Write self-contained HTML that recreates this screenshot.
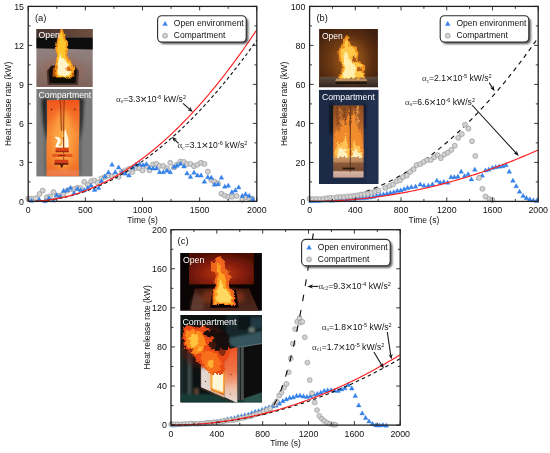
<!DOCTYPE html>
<html lang="en"><head><meta charset="utf-8"><title>Heat release rate</title>
<style>
html,body{margin:0;padding:0;background:#fff;}
body{width:550px;height:453px;overflow:hidden;}
svg{display:block;font-family:"Liberation Sans",sans-serif;}
</style></head><body>
<svg width="550" height="453" viewBox="0 0 550 453">
<defs>
<filter id="sh" x="-10%" y="-20%" width="125%" height="150%"><feGaussianBlur stdDeviation="0.9"/></filter>


<filter id="b3" x="-20%" y="-20%" width="140%" height="140%"><feGaussianBlur stdDeviation="0.35"/></filter>
<filter id="b6" x="-20%" y="-20%" width="140%" height="140%"><feGaussianBlur stdDeviation="0.6"/></filter>
<filter id="b10" x="-30%" y="-30%" width="160%" height="160%"><feGaussianBlur stdDeviation="1"/></filter>
<filter id="b15" x="-30%" y="-30%" width="160%" height="160%"><feGaussianBlur stdDeviation="1.5"/></filter>
<filter id="b20" x="-40%" y="-40%" width="180%" height="180%"><feGaussianBlur stdDeviation="2"/></filter>
<filter id="b35" x="-50%" y="-50%" width="200%" height="200%"><feGaussianBlur stdDeviation="3.5"/></filter>
<filter id="fl1" x="-20%" y="-20%" width="140%" height="140%"><feTurbulence type="fractalNoise" baseFrequency="0.22" numOctaves="2" seed="4" result="n"/><feDisplacementMap in="SourceGraphic" in2="n" scale="3.2" xChannelSelector="R" yChannelSelector="G"/><feGaussianBlur stdDeviation="0.35"/></filter>
<filter id="fl2" x="-20%" y="-20%" width="140%" height="140%"><feTurbulence type="fractalNoise" baseFrequency="0.3" numOctaves="2" seed="11" result="n"/><feDisplacementMap in="SourceGraphic" in2="n" scale="4" xChannelSelector="R" yChannelSelector="G"/><feGaussianBlur stdDeviation="0.35"/></filter>
<filter id="fl3" x="-20%" y="-20%" width="140%" height="140%"><feTurbulence type="fractalNoise" baseFrequency="0.35" numOctaves="2" seed="7" result="n"/><feDisplacementMap in="SourceGraphic" in2="n" scale="5" xChannelSelector="R" yChannelSelector="G"/><feGaussianBlur stdDeviation="0.4"/></filter>
<clipPath id="ca1"><rect x="36.4" y="29.1" width="56.3" height="58"/></clipPath>
<clipPath id="ca2"><rect x="36.4" y="89" width="56.1" height="87.5"/></clipPath>
<clipPath id="cb1"><rect x="319.1" y="28.9" width="58.8" height="58.4"/></clipPath>
<clipPath id="cb2"><rect x="318.9" y="89.8" width="59.6" height="94.3"/></clipPath>
<clipPath id="cb2o"><rect x="333.2" y="105.4" width="30.4" height="72.2"/></clipPath>
<clipPath id="cc1"><rect x="180.2" y="252.9" width="81.7" height="57.9"/></clipPath>
<clipPath id="cc2"><rect x="180.4" y="315" width="81.6" height="87.4"/></clipPath>
<linearGradient id="ga1f" x1="0" y1="0" x2="0" y2="1"><stop offset="0" stop-color="#968b8a"/><stop offset="0.5" stop-color="#8e7c79"/><stop offset="1" stop-color="#7e625a"/></linearGradient>
<linearGradient id="ga1t" x1="0" y1="0" x2="1" y2="0"><stop offset="0" stop-color="#43332f"/><stop offset="0.5" stop-color="#5c4036"/><stop offset="1" stop-color="#70503f"/></linearGradient>
<linearGradient id="ga2o" x1="0" y1="0" x2="0" y2="1"><stop offset="0" stop-color="#f0561c"/><stop offset="0.2" stop-color="#f46c26"/><stop offset="0.45" stop-color="#f78a36"/><stop offset="0.8" stop-color="#f47a2c"/><stop offset="1" stop-color="#ea6424"/></linearGradient>
<radialGradient id="gb1" cx="0.48" cy="0.52" r="0.62"><stop offset="0" stop-color="#8e4c1a"/><stop offset="0.5" stop-color="#6c3813"/><stop offset="1" stop-color="#40200d"/></radialGradient>
<linearGradient id="gb1f" x1="0" y1="0" x2="0" y2="1"><stop offset="0" stop-color="#5e4c3e"/><stop offset="1" stop-color="#30221e"/></linearGradient>
<linearGradient id="gb2o" x1="0" y1="0" x2="0" y2="1"><stop offset="0" stop-color="#8a4a20"/><stop offset="0.25" stop-color="#ae5e28"/><stop offset="0.42" stop-color="#d8742a"/><stop offset="0.68" stop-color="#f29238"/><stop offset="0.71" stop-color="#cf9a68"/><stop offset="0.78" stop-color="#b98458"/><stop offset="0.80" stop-color="#8a5a3a"/><stop offset="0.9" stop-color="#7a4e34"/><stop offset="0.92" stop-color="#d4b4a4"/><stop offset="1" stop-color="#c8a090"/></linearGradient>
<radialGradient id="gc1w" cx="0.5" cy="0.66" r="0.66"><stop offset="0" stop-color="#c03c10"/><stop offset="0.45" stop-color="#8e2009"/><stop offset="1" stop-color="#4c0e05"/></radialGradient>
<linearGradient id="gc1f" x1="0" y1="0" x2="0" y2="1"><stop offset="0" stop-color="#40190f"/><stop offset="1" stop-color="#4e281e"/></linearGradient>
<linearGradient id="gc2r" x1="0" y1="0" x2="0" y2="1"><stop offset="0" stop-color="#ee5424"/><stop offset="0.45" stop-color="#f0764a"/><stop offset="0.75" stop-color="#efc0a8"/><stop offset="1" stop-color="#e6dad4"/></linearGradient>
<linearGradient id="gc2d" x1="0" y1="0" x2="1" y2="0"><stop offset="0" stop-color="#ff9a28"/><stop offset="0.3" stop-color="#fff6cc"/><stop offset="0.75" stop-color="#fff0b8"/><stop offset="1" stop-color="#ff8a20"/></linearGradient>

</defs>
<rect width="550" height="453" fill="#fff"/>
<g id="pa">
<g fill="#d2d2d2" stroke="#8c8c8c" stroke-width="0.6"><circle cx="28.2" cy="198.6" r="2.5"/><circle cx="31.5" cy="198.6" r="2.5"/><circle cx="35.9" cy="198.3" r="2.5"/><circle cx="39.5" cy="194" r="2.5"/><circle cx="42.7" cy="190.6" r="2.5"/><circle cx="46.8" cy="197.2" r="2.5"/><circle cx="50" cy="196.5" r="2.5"/><circle cx="53.4" cy="192.1" r="2.5"/><circle cx="56.7" cy="195.7" r="2.5"/><circle cx="60.3" cy="195.7" r="2.5"/><circle cx="63.5" cy="194" r="2.5"/><circle cx="67.2" cy="190.6" r="2.5"/><circle cx="70.5" cy="189.2" r="2.5"/><circle cx="74" cy="189.2" r="2.5"/><circle cx="77.4" cy="187.7" r="2.5"/><circle cx="80.7" cy="188.2" r="2.5"/><circle cx="84.3" cy="181.9" r="2.5"/><circle cx="87.8" cy="184.8" r="2.5"/><circle cx="91.2" cy="181.2" r="2.5"/><circle cx="94.5" cy="180.5" r="2.5"/><circle cx="97.7" cy="182.6" r="2.5"/><circle cx="101.5" cy="178.4" r="2.5"/><circle cx="105" cy="176.9" r="2.5"/><circle cx="108.4" cy="175.5" r="2.5"/><circle cx="112" cy="176.2" r="2.5"/><circle cx="115.3" cy="175" r="2.5"/><circle cx="118.6" cy="176.9" r="2.5"/><circle cx="122" cy="171.8" r="2.5"/><circle cx="125.5" cy="170.4" r="2.5"/><circle cx="129" cy="168.9" r="2.5"/><circle cx="132.3" cy="172.1" r="2.5"/><circle cx="135.6" cy="168.2" r="2.5"/><circle cx="139.3" cy="168.2" r="2.5"/><circle cx="142.6" cy="170.4" r="2.5"/><circle cx="146.3" cy="166" r="2.5"/><circle cx="149.5" cy="170.4" r="2.5"/><circle cx="153" cy="164.5" r="2.5"/><circle cx="156.4" cy="163.8" r="2.5"/><circle cx="159.6" cy="166" r="2.5"/><circle cx="163.3" cy="166" r="2.5"/><circle cx="167" cy="168.2" r="2.5"/><circle cx="170.3" cy="162.8" r="2.5"/><circle cx="174" cy="167.5" r="2.5"/><circle cx="177" cy="164.5" r="2.5"/><circle cx="180.4" cy="161.6" r="2.5"/><circle cx="184" cy="162" r="2.5"/><circle cx="187" cy="164.2" r="2.5"/><circle cx="190.5" cy="163.9" r="2.5"/><circle cx="194" cy="166.2" r="2.5"/><circle cx="197.4" cy="164.7" r="2.5"/><circle cx="201" cy="162.8" r="2.5"/><circle cx="204.4" cy="163.9" r="2.5"/><circle cx="207.8" cy="171.6" r="2.5"/><circle cx="211.3" cy="180.1" r="2.5"/><circle cx="214.4" cy="181.7" r="2.5"/><circle cx="218" cy="183.2" r="2.5"/><circle cx="221.4" cy="193.7" r="2.5"/><circle cx="224.8" cy="195.6" r="2.5"/><circle cx="228.3" cy="196.8" r="2.5"/><circle cx="231.9" cy="196.8" r="2.5"/><circle cx="236.5" cy="196" r="2.5"/><circle cx="242.2" cy="199.8" r="2.5"/><circle cx="245.6" cy="197.1" r="2.5"/><circle cx="249.2" cy="198.2" r="2.5"/><circle cx="252.3" cy="198.7" r="2.5"/></g>
<path d="M31.5 198.03l2.38 4.25h-4.75zM39.3 197.03l2.38 4.25h-4.75zM45 198.43l2.38 4.25h-4.75zM49 195.53l2.38 4.25h-4.75zM53.4 197.72l2.38 4.25h-4.75zM56.7 192.62l2.38 4.25h-4.75zM60.3 194.12l2.38 4.25h-4.75zM63.5 188.22l2.38 4.25h-4.75zM67.2 187.53l2.38 4.25h-4.75zM70.5 185.32l2.38 4.25h-4.75zM74 190.43l2.38 4.25h-4.75zM77.4 186.32l2.38 4.25h-4.75zM80.7 187.53l2.38 4.25h-4.75zM84.3 187.53l2.38 4.25h-4.75zM87.8 185.32l2.38 4.25h-4.75zM91.2 182.93l2.38 4.25h-4.75zM94.5 187.22l2.38 4.25h-4.75zM98.5 185.32l2.38 4.25h-4.75zM101.5 178.43l2.38 4.25h-4.75zM105 173.82l2.38 4.25h-4.75zM108.4 169.72l2.38 4.25h-4.75zM112 162.12l2.38 4.25h-4.75zM115.3 169.43l2.38 4.25h-4.75zM118.6 164.82l2.38 4.25h-4.75zM122 169.43l2.38 4.25h-4.75zM125.5 170.93l2.38 4.25h-4.75zM129 172.82l2.38 4.25h-4.75zM132.7 164.82l2.38 4.25h-4.75zM136 162.12l2.38 4.25h-4.75zM139.6 161.43l2.38 4.25h-4.75zM143 162.62l2.38 4.25h-4.75zM146.3 161.43l2.38 4.25h-4.75zM149.5 165.12l2.38 4.25h-4.75zM153 165.82l2.38 4.25h-4.75zM156.4 165.82l2.38 4.25h-4.75zM159.6 169.43l2.38 4.25h-4.75zM163.3 169.43l2.38 4.25h-4.75zM167 168.03l2.38 4.25h-4.75zM170.3 169.43l2.38 4.25h-4.75zM174 164.32l2.38 4.25h-4.75zM176.9 163.12l2.38 4.25h-4.75zM180.4 161.22l2.38 4.25h-4.75zM184 163.82l2.38 4.25h-4.75zM187 170.82l2.38 4.25h-4.75zM190.5 174.22l2.38 4.25h-4.75zM194 170.03l2.38 4.25h-4.75zM197.4 172.82l2.38 4.25h-4.75zM201 172.82l2.38 4.25h-4.75zM204.4 179.03l2.38 4.25h-4.75zM207.8 174.62l2.38 4.25h-4.75zM211.3 175.12l2.38 4.25h-4.75zM214.4 181.93l2.38 4.25h-4.75zM218 181.62l2.38 4.25h-4.75zM221.4 175.12l2.38 4.25h-4.75zM224.8 183.93l2.38 4.25h-4.75zM228.3 183.12l2.38 4.25h-4.75zM231.9 189.62l2.38 4.25h-4.75zM235.3 187.82l2.38 4.25h-4.75zM238.7 184.72l2.38 4.25h-4.75zM242.2 193.22l2.38 4.25h-4.75zM245.6 191.62l2.38 4.25h-4.75zM249.2 193.22l2.38 4.25h-4.75zM252.7 196.72l2.38 4.25h-4.75z" fill="#3585ee" stroke="#2a70d8" stroke-width="0.3"/>
<polyline points="35.06,201.25 37.83,201.11 40.6,200.93 43.37,200.69 46.15,200.41 48.92,200.08 51.69,199.7 54.46,199.27 57.23,198.8 60,198.28 62.78,197.71 65.55,197.1 68.32,196.43 71.09,195.73 73.86,194.97 76.63,194.16 79.41,193.31 82.18,192.41 84.95,191.47 87.72,190.47 90.49,189.43 93.27,188.34 96.04,187.2 98.81,186.02 101.58,184.79 104.35,183.51 107.12,182.19 109.9,180.81 112.67,179.39 115.44,177.92 118.21,176.41 120.98,174.84 123.75,173.23 126.53,171.58 129.3,169.87 132.07,168.12 134.84,166.32 137.61,164.47 140.39,162.58 143.16,160.64 145.93,158.65 148.7,156.61 151.47,154.52 154.24,152.39 157.02,150.21 159.79,147.99 162.56,145.71 165.33,143.39 168.1,141.02 170.87,138.61 173.65,136.14 176.42,133.63 179.19,131.07 181.96,128.47 184.73,125.82 187.51,123.12 190.28,120.37 193.05,117.57 195.82,114.73 198.59,111.84 201.36,108.9 204.14,105.92 206.91,102.89 209.68,99.81 212.45,96.68 215.22,93.5 218,90.28 220.77,87.01 223.54,83.7 226.31,80.33 229.08,76.92 231.85,73.46 234.63,69.96 237.4,66.4 240.17,62.8 242.94,59.15 245.71,55.46 248.48,51.71 251.26,47.92 254.03,44.09 256.8,40.2" fill="none" stroke="#111" stroke-width="1.1" stroke-dasharray="3.4 2.6"/>
<polyline points="35.06,201.25 37.83,201.1 40.6,200.89 43.37,200.64 46.15,200.34 48.92,199.99 51.69,199.59 54.46,199.14 57.23,198.63 60,198.08 62.78,197.47 65.55,196.82 68.32,196.11 71.09,195.36 73.86,194.55 76.63,193.7 79.41,192.79 82.18,191.83 84.95,190.82 87.72,189.77 90.49,188.66 93.27,187.5 96.04,186.29 98.81,185.03 101.58,183.72 104.35,182.36 107.12,180.95 109.9,179.48 112.67,177.97 115.44,176.41 118.21,174.8 120.98,173.13 123.75,171.42 126.53,169.65 129.3,167.84 132.07,165.97 134.84,164.06 137.61,162.09 140.39,160.07 143.16,158.01 145.93,155.89 148.7,153.72 151.47,151.5 154.24,149.23 157.02,146.91 159.79,144.54 162.56,142.12 165.33,139.65 168.1,137.13 170.87,134.56 173.65,131.93 176.42,129.26 179.19,126.54 181.96,123.76 184.73,120.94 187.51,118.07 190.28,115.14 193.05,112.16 195.82,109.14 198.59,106.06 201.36,102.93 204.14,99.76 206.91,96.53 209.68,93.25 212.45,89.92 215.22,86.54 218,83.11 220.77,79.63 223.54,76.1 226.31,72.52 229.08,68.89 231.85,65.21 234.63,61.48 237.4,57.69 240.17,53.86 242.94,49.98 245.71,46.04 248.48,42.06 251.26,38.02 254.03,33.94 256.8,29.8" fill="none" stroke="#ff1f1f" stroke-width="1.15"/>
<path d="M28.2 201.4v-4M28.2 6.4v4M85.35 201.4v-4M85.35 6.4v4M142.5 201.4v-4M142.5 6.4v4M199.65 201.4v-4M199.65 6.4v4M256.8 201.4v-4M256.8 6.4v4M56.78 201.4v-2.4M56.78 6.4v2.4M113.93 201.4v-2.4M113.93 6.4v2.4M171.07 201.4v-2.4M171.07 6.4v2.4M228.23 201.4v-2.4M228.23 6.4v2.4M28.2 201.4h4M256.8 201.4h-4M28.2 162.4h4M256.8 162.4h-4M28.2 123.4h4M256.8 123.4h-4M28.2 84.4h4M256.8 84.4h-4M28.2 45.4h4M256.8 45.4h-4M28.2 6.4h4M256.8 6.4h-4M28.2 181.9h2.4M256.8 181.9h-2.4M28.2 142.9h2.4M256.8 142.9h-2.4M28.2 103.9h2.4M256.8 103.9h-2.4M28.2 64.9h2.4M256.8 64.9h-2.4M28.2 25.9h2.4M256.8 25.9h-2.4" stroke="#222" stroke-width="0.9" fill="none"/>
<rect x="28.2" y="6.4" width="228.6" height="195" fill="none" stroke="#222" stroke-width="1.3"/>
<g font-size="8.8" fill="#111">
<text x="28.2" y="213.1" text-anchor="middle">0</text>
<text x="85.35" y="213.1" text-anchor="middle">500</text>
<text x="142.5" y="213.1" text-anchor="middle">1000</text>
<text x="199.65" y="213.1" text-anchor="middle">1500</text>
<text x="256.8" y="213.1" text-anchor="middle">2000</text>
<text x="24" y="204.5" text-anchor="end">0</text>
<text x="24" y="165.5" text-anchor="end">3</text>
<text x="24" y="126.5" text-anchor="end">6</text>
<text x="24" y="87.5" text-anchor="end">9</text>
<text x="24" y="48.5" text-anchor="end">12</text>
<text x="24" y="9.5" text-anchor="end">15</text>
</g>
<text x="142.5" y="223.3" font-size="8.45" text-anchor="middle" fill="#111">Time (s)</text>
<text transform="translate(11.1 103.9) rotate(-90)" font-size="8.4" text-anchor="middle" fill="#111">Heat release rate (kW)</text>
<text x="35" y="20.9" font-size="9.4" fill="#111">(a)</text>
<rect x="159.6" y="17.7" width="88.6" height="26.3" rx="4.2" fill="#3a3a3a" opacity="0.9" filter="url(#sh)"/>
<rect x="157.6" y="15.7" width="88.6" height="26.3" rx="4.2" fill="#fff" stroke="#2c2c2c" stroke-width="1.1"/>
<path d="M165.1 21.32l2.38 4.25h-4.75z" fill="#3585ee" stroke="#2a70d8" stroke-width="0.3"/>
<circle cx="165.1" cy="35.7" r="2.5" fill="#d2d2d2" stroke="#8c8c8c" stroke-width="0.6"/>
<text x="173.8" y="26.3" font-size="8.5" fill="#111">Open environment</text>
<text x="173.8" y="38.4" font-size="8.5" fill="#111">Compartment</text>
<text x="116" y="101.7" font-size="8.6" fill="#111"><tspan font-family='"Liberation Serif", "DejaVu Serif", serif' font-size="9" fill="#3a3a3a">α</tspan><tspan font-family='"Liberation Serif", serif' font-size="5.2" dy="1.2" fill="#222">o</tspan><tspan dy="-1.2" fill="#333">=</tspan><tspan>3.3</tspan><tspan font-size="11.4" dy="0.9">×</tspan><tspan dy="-0.9">10</tspan><tspan font-size="5.5" dy="-3">-6</tspan><tspan dy="3"> kW/s</tspan><tspan font-size="5.5" dy="-3">2</tspan></text>
<path d="M183 103.4L189.85 109.41" stroke="#111" stroke-width="1.05" fill="none"/><path d="M192.8 112L187.21 109.88L189.85 109.41L189.98 106.73z" fill="#111"/>
<text x="177.6" y="148.3" font-size="8.6" fill="#111"><tspan font-family='"Liberation Serif", "DejaVu Serif", serif' font-size="9" fill="#3a3a3a">α</tspan><tspan font-family='"Liberation Serif", serif' font-size="5.2" dy="1.2" fill="#222">c</tspan><tspan dy="-1.2" fill="#333">=</tspan><tspan>3.1</tspan><tspan font-size="11.4" dy="0.9">×</tspan><tspan dy="-0.9">10</tspan><tspan font-size="5.5" dy="-3">-6</tspan><tspan dy="3"> kW/s</tspan><tspan font-size="5.5" dy="-3">2</tspan></text>
<path d="M178.6 143.4L174.61 139.53" stroke="#111" stroke-width="1.05" fill="none"/><path d="M171.8 136.8L177.28 139.19L174.61 139.53L174.36 142.21z" fill="#111"/>
<g clip-path="url(#ca1)"><rect x="36" y="29" width="57" height="59" fill="url(#ga1f)"/><ellipse cx="63" cy="70" rx="20" ry="13" fill="#a4604a" opacity="0.45" filter="url(#b35)"/><g filter="url(#b6)"><rect x="34" y="27" width="61" height="10.6" fill="url(#ga1t)"/><path d="M34 37.4H95V49.6L34 48.2z" fill="#0d0a0a"/><path d="M46.6 71L51 65.5H75L79 71L78 85H47.6z" fill="#33241f" opacity="0.7"/></g><g filter="url(#b3)"><path d="M48.4 70.5L52 66H74L76.8 70.5L75.8 83.2H49.4z" fill="#15100d"/><path d="M53 67.4H73.4L74.6 77.6H52.6z" fill="#b5530f"/><path d="M52 76.8H74.8L74 82.8H52.8z" fill="#0a0706"/></g><g filter="url(#fl1)"><path d="M62 27C64 33 65 38.6 67.8 43.6C69.4 48 66.6 52.6 67.2 56C69.2 59.6 72 63 74 68C74.6 72 73 76 71.6 77.6H56.6C54.2 73 54.6 67 56.4 60C55.4 54.4 55.8 48 56.6 42.4C57.4 36.6 59.4 31.6 62 27z" fill="#f6951a"/><path d="M61.8 30.6C63 37 64 41.4 66.2 45.6C67.2 49.6 64.6 53 65.6 57C67.2 61 70 64 71.6 68C72.4 72 71.4 75 70.4 76.8H57.8C56.2 72 56.6 66 58 60C57 55 57.4 49 58.2 44C58.8 39 60.2 34.4 61.8 30.6z" fill="#ffc62e"/><path d="M60.2 54C62 57 65 59.6 67 63C69 66 70.6 70 69.6 75.6H58.4C57 70 57.6 61 60.2 54z" fill="#fff4c8"/><ellipse cx="68.6" cy="68.8" rx="2.2" ry="2.5" fill="#d8701a"/><ellipse cx="56.6" cy="67" rx="1.3" ry="2" fill="#e8801a"/></g></g><text x="38.6" y="38.3" font-size="8.7" fill="#fff">Open</text>
<g clip-path="url(#ca2)"><rect x="36" y="88.8" width="57" height="88" fill="#7b7b7b"/><g filter="url(#b15)"><path d="M47.4 98L41.4 99.5L43 122L46 140L47.4 140z" fill="#1a1614" opacity="0.9"/><path d="M78.6 98L84 99.5L82.6 124L80 142L78.6 142z" fill="#1a1614" opacity="0.85"/><path d="M43 98.8H83" stroke="#2a2422" stroke-width="1.8" fill="none" opacity="0.8"/><path d="M45.6 140V176" stroke="#3e3a38" stroke-width="2" fill="none" opacity="0.6"/><path d="M80 142V176" stroke="#3e3a38" stroke-width="2" fill="none" opacity="0.6"/></g><g filter="url(#b3)"><path d="M46.9 100.3L79.3 99.9C79.9 115 79.3 135 78.7 150L78.9 176.2H46.6L46.4 150C47 135 47.5 115 46.9 100.3z" fill="url(#ga2o)"/></g><ellipse cx="63" cy="140" rx="10" ry="30" fill="#ffb24c" opacity="0.75" filter="url(#b35)"/><g filter="url(#b3)"><path d="M60 99.9C61.6 112 60.4 124 61.6 131L63.2 150L64 150C63.6 130 64 112 64.2 99.9z" fill="#e2521c" opacity="0.35"/><path d="M60 99.9C61.6 112 60.4 124 61.6 131" stroke="#7a2a0c" stroke-width="0.8" fill="none"/><path d="M64.2 99.9C64 112 63.4 130 63.7 165" stroke="#7a2a0c" stroke-width="0.8" fill="none"/><circle cx="51.6" cy="109.4" r="0.8" fill="#6a1c0a"/><circle cx="74.8" cy="109.4" r="0.8" fill="#6a1c0a"/><path d="M54.6 137.2C56.6 136.4 59.6 137 60.6 139.4C61.4 142 59.4 143.6 58.6 145.2C59.6 146.4 61 146.4 61.6 145.4L62.2 138L63 147.6H55.6C55 144.6 57 143 57.6 141.2C57.6 139.4 55.8 138.6 54.6 137.2z" fill="#fff8e4"/><path d="M64.4 133C65 130 65.6 127 66.2 132C67 135 68 137 68.4 140L68.8 147.6H64.6z" fill="#fff8e4"/><path d="M62.6 128C63.2 131 63.6 134 63.4 137L62 137.6C62 134 62.2 131 62.6 128z" fill="#ffd050"/><rect x="55.6" y="147.8" width="13.2" height="4.4" fill="#dd4616"/><rect x="55.6" y="150.8" width="13.2" height="1.4" fill="#a02c0c"/><rect x="52.4" y="153.8" width="20" height="3.2" fill="#e6581e"/><rect x="58.6" y="155" width="6.6" height="0.9" fill="#7a200a"/><rect x="54.5" y="159.7" width="13.8" height="4.7" fill="#d43c16"/><rect x="54.5" y="163.2" width="13.8" height="1.4" fill="#5a1a08"/><path d="M59.8 164.6H63.6L61.8 168.2z" fill="#4a1406"/></g><rect x="46.6" y="170" width="32.3" height="6.2" fill="#f09070" opacity="0.5" filter="url(#b10)"/></g><text x="38.6" y="98" font-size="8.7" fill="#fff">Compartment</text>
</g>
<g id="pb">
<polyline points="316.46,201.25 319.23,201.11 322,200.92 324.77,200.68 327.55,200.39 330.32,200.05 333.09,199.67 335.86,199.24 338.63,198.76 341.4,198.23 344.18,197.65 346.95,197.03 349.72,196.35 352.49,195.63 355.26,194.86 358.03,194.05 360.81,193.18 363.58,192.27 366.35,191.31 369.12,190.3 371.89,189.24 374.67,188.13 377.44,186.98 380.21,185.77 382.98,184.52 385.75,183.22 388.52,181.88 391.3,180.48 394.07,179.04 396.84,177.54 399.61,176 402.38,174.42 405.15,172.78 407.93,171.1 410.7,169.36 413.47,167.58 416.24,165.75 419.01,163.88 421.79,161.95 424.56,159.98 427.33,157.96 430.1,155.89 432.87,153.77 435.64,151.6 438.42,149.39 441.19,147.13 443.96,144.82 446.73,142.46 449.5,140.05 452.27,137.59 455.05,135.09 457.82,132.54 460.59,129.94 463.36,127.29 466.13,124.6 468.91,121.85 471.68,119.06 474.45,116.22 477.22,113.33 479.99,110.4 482.76,107.41 485.54,104.38 488.31,101.3 491.08,98.17 493.85,94.99 496.62,91.76 499.4,88.49 502.17,85.17 504.94,81.8 507.71,78.38 510.48,74.91 513.25,71.4 516.03,67.84 518.8,64.23 521.57,60.57 524.34,56.86 527.11,53.1 529.88,49.3 532.66,45.45 535.43,41.55 538.2,37.6" fill="none" stroke="#111" stroke-width="1.15" stroke-dasharray="4.4 4"/>
<path d="M311 198.43l2.38 4.25h-4.75zM314.45 198.23l2.38 4.25h-4.75zM317.9 198.25l2.38 4.25h-4.75zM321.35 197.99l2.38 4.25h-4.75zM324.8 197.81l2.38 4.25h-4.75zM328.25 197.84l2.38 4.25h-4.75zM331.7 197.93l2.38 4.25h-4.75zM335.15 197.67l2.38 4.25h-4.75zM338.6 197.44l2.38 4.25h-4.75zM342.05 196.96l2.38 4.25h-4.75zM345.5 196.91l2.38 4.25h-4.75zM348.95 196.58l2.38 4.25h-4.75zM352.4 196.23l2.38 4.25h-4.75zM355.85 195.86l2.38 4.25h-4.75zM359.3 195.57l2.38 4.25h-4.75zM362.75 195.59l2.38 4.25h-4.75zM366.2 195.21l2.38 4.25h-4.75zM369.65 194.86l2.38 4.25h-4.75zM373.1 194.17l2.38 4.25h-4.75zM376.55 193.06l2.38 4.25h-4.75zM380 192.32l2.38 4.25h-4.75zM383.45 191.67l2.38 4.25h-4.75zM386.9 190.92l2.38 4.25h-4.75zM390.35 190.22l2.38 4.25h-4.75zM393.8 189.48l2.38 4.25h-4.75zM397.25 188.32l2.38 4.25h-4.75zM400.7 187.73l2.38 4.25h-4.75zM404.15 186.56l2.38 4.25h-4.75zM407.6 185.27l2.38 4.25h-4.75zM411.3 184.43l2.38 4.25h-4.75zM415.6 183.93l2.38 4.25h-4.75zM420.2 181.82l2.38 4.25h-4.75zM424 183.12l2.38 4.25h-4.75zM428.4 183.12l2.38 4.25h-4.75zM432.5 181.82l2.38 4.25h-4.75zM436.9 178.03l2.38 4.25h-4.75zM440.2 180.03l2.38 4.25h-4.75zM443.8 179.32l2.38 4.25h-4.75zM447.6 180.03l2.38 4.25h-4.75zM451 174.62l2.38 4.25h-4.75zM454.3 174.62l2.38 4.25h-4.75zM457.9 174.12l2.38 4.25h-4.75zM461.2 169.03l2.38 4.25h-4.75zM464.5 173.62l2.38 4.25h-4.75zM468.1 171.62l2.38 4.25h-4.75zM471.4 176.72l2.38 4.25h-4.75zM474.8 167.03l2.38 4.25h-4.75zM478.6 175.43l2.38 4.25h-4.75zM482.2 172.93l2.38 4.25h-4.75zM485.5 167.72l2.38 4.25h-4.75zM488.8 167.03l2.38 4.25h-4.75zM492.4 165.22l2.38 4.25h-4.75zM495.7 164.43l2.38 4.25h-4.75zM499.1 163.93l2.38 4.25h-4.75zM502.7 163.43l2.38 4.25h-4.75zM506 162.62l2.38 4.25h-4.75zM509.3 169.03l2.38 4.25h-4.75zM512.9 178.03l2.38 4.25h-4.75zM516.2 183.62l2.38 4.25h-4.75zM519.5 189.03l2.38 4.25h-4.75zM523.1 193.32l2.38 4.25h-4.75zM526.4 195.43l2.38 4.25h-4.75zM529.8 196.72l2.38 4.25h-4.75zM533.4 197.72l2.38 4.25h-4.75zM536.7 198.22l2.38 4.25h-4.75z" fill="#3585ee" stroke="#2a70d8" stroke-width="0.3"/>
<g fill="#d2d2d2" stroke="#8c8c8c" stroke-width="0.6"><circle cx="309.5" cy="198.87" r="2.5"/><circle cx="312.95" cy="199.05" r="2.5"/><circle cx="316.4" cy="198.99" r="2.5"/><circle cx="319.85" cy="199.14" r="2.5"/><circle cx="323.3" cy="198.95" r="2.5"/><circle cx="326.75" cy="198.29" r="2.5"/><circle cx="330.2" cy="197.88" r="2.5"/><circle cx="333.65" cy="197.92" r="2.5"/><circle cx="337.1" cy="197.25" r="2.5"/><circle cx="340.55" cy="196.92" r="2.5"/><circle cx="344" cy="197.01" r="2.5"/><circle cx="347.45" cy="196.45" r="2.5"/><circle cx="350.9" cy="196.33" r="2.5"/><circle cx="354.35" cy="195.83" r="2.5"/><circle cx="357.8" cy="195.35" r="2.5"/><circle cx="361.25" cy="194.55" r="2.5"/><circle cx="364.7" cy="194.13" r="2.5"/><circle cx="368.15" cy="193.55" r="2.5"/><circle cx="371.6" cy="192.59" r="2.5"/><circle cx="375.05" cy="191.67" r="2.5"/><circle cx="378.5" cy="190.62" r="2.5"/><circle cx="385.2" cy="188" r="2.5"/><circle cx="389.4" cy="186" r="2.5"/><circle cx="393" cy="184.5" r="2.5"/><circle cx="396.4" cy="181.3" r="2.5"/><circle cx="400" cy="180.3" r="2.5"/><circle cx="403" cy="177.1" r="2.5"/><circle cx="406.9" cy="175.5" r="2.5"/><circle cx="410" cy="171.9" r="2.5"/><circle cx="413.6" cy="169.2" r="2.5"/><circle cx="416.7" cy="165" r="2.5"/><circle cx="420.3" cy="164.1" r="2.5"/><circle cx="423.6" cy="162" r="2.5"/><circle cx="427.2" cy="160" r="2.5"/><circle cx="430.8" cy="160" r="2.5"/><circle cx="434.1" cy="157.2" r="2.5"/><circle cx="437.7" cy="155.1" r="2.5"/><circle cx="440.8" cy="158.2" r="2.5"/><circle cx="444.4" cy="154.5" r="2.5"/><circle cx="447.8" cy="152.6" r="2.5"/><circle cx="451.3" cy="149.9" r="2.5"/><circle cx="454.7" cy="145.7" r="2.5"/><circle cx="458.2" cy="137.9" r="2.5"/><circle cx="461.8" cy="134.1" r="2.5"/><circle cx="465" cy="124.7" r="2.5"/><circle cx="468.4" cy="128.6" r="2.5"/><circle cx="472" cy="141.2" r="2.5"/><circle cx="475.3" cy="156" r="2.5"/><circle cx="479.1" cy="177.8" r="2.5"/><circle cx="482.4" cy="188.8" r="2.5"/><circle cx="485.5" cy="196.5" r="2.5"/><circle cx="489.3" cy="199" r="2.5"/><circle cx="492.4" cy="200.1" r="2.5"/></g>
<polyline points="309.6,201.4 312.46,201.39 315.31,201.37 318.17,201.33 321.03,201.27 323.89,201.2 326.75,201.11 329.6,201.01 332.46,200.89 335.32,200.75 338.18,200.6 341.03,200.43 343.89,200.24 346.75,200.04 349.61,199.82 352.46,199.59 355.32,199.34 358.18,199.08 361.04,198.79 363.89,198.5 366.75,198.18 369.61,197.85 372.47,197.51 375.32,197.14 378.18,196.77 381.04,196.37 383.9,195.96 386.75,195.54 389.61,195.09 392.47,194.64 395.33,194.16 398.18,193.67 401.04,193.16 403.9,192.64 406.76,192.1 409.61,191.55 412.47,190.98 415.33,190.39 418.19,189.78 421.04,189.17 423.9,188.53 426.76,187.88 429.62,187.21 432.47,186.53 435.33,185.83 438.19,185.11 441.05,184.38 443.9,183.63 446.76,182.87 449.62,182.09 452.48,181.29 455.33,180.48 458.19,179.65 461.05,178.81 463.91,177.94 466.76,177.07 469.62,176.17 472.48,175.27 475.34,174.34 478.19,173.4 481.05,172.44 483.91,171.47 486.77,170.48 489.62,169.47 492.48,168.45 495.34,167.42 498.2,166.36 501.05,165.29 503.91,164.21 506.77,163.1 509.63,161.99 512.48,160.85 515.34,159.7 518.2,158.53 521.06,157.35 523.91,156.15 526.77,154.94 529.63,153.71 532.49,152.46 535.34,151.2 538.2,149.92" fill="none" stroke="#ff1f1f" stroke-width="1.15"/>
<path d="M309.6 201.4v-4M309.6 6.4v4M355.32 201.4v-4M355.32 6.4v4M401.04 201.4v-4M401.04 6.4v4M446.76 201.4v-4M446.76 6.4v4M492.48 201.4v-4M492.48 6.4v4M538.2 201.4v-4M538.2 6.4v4M332.46 201.4v-2.4M332.46 6.4v2.4M378.18 201.4v-2.4M378.18 6.4v2.4M423.9 201.4v-2.4M423.9 6.4v2.4M469.62 201.4v-2.4M469.62 6.4v2.4M515.34 201.4v-2.4M515.34 6.4v2.4M309.6 201.4h4M538.2 201.4h-4M309.6 162.4h4M538.2 162.4h-4M309.6 123.4h4M538.2 123.4h-4M309.6 84.4h4M538.2 84.4h-4M309.6 45.4h4M538.2 45.4h-4M309.6 6.4h4M538.2 6.4h-4M309.6 181.9h2.4M538.2 181.9h-2.4M309.6 142.9h2.4M538.2 142.9h-2.4M309.6 103.9h2.4M538.2 103.9h-2.4M309.6 64.9h2.4M538.2 64.9h-2.4M309.6 25.9h2.4M538.2 25.9h-2.4" stroke="#222" stroke-width="0.9" fill="none"/>
<rect x="309.6" y="6.4" width="228.6" height="195" fill="none" stroke="#222" stroke-width="1.3"/>
<g font-size="8.8" fill="#111">
<text x="309.6" y="213.1" text-anchor="middle">0</text>
<text x="355.32" y="213.1" text-anchor="middle">400</text>
<text x="401.04" y="213.1" text-anchor="middle">800</text>
<text x="446.76" y="213.1" text-anchor="middle">1200</text>
<text x="492.48" y="213.1" text-anchor="middle">1600</text>
<text x="538.2" y="213.1" text-anchor="middle">2000</text>
<text x="305.4" y="204.5" text-anchor="end">0</text>
<text x="305.4" y="165.5" text-anchor="end">20</text>
<text x="305.4" y="126.5" text-anchor="end">40</text>
<text x="305.4" y="87.5" text-anchor="end">60</text>
<text x="305.4" y="48.5" text-anchor="end">80</text>
<text x="305.4" y="9.5" text-anchor="end">100</text>
</g>
<text x="423.9" y="223.3" font-size="8.45" text-anchor="middle" fill="#111">Time (s)</text>
<text transform="translate(287.2 103.9) rotate(-90)" font-size="8.4" text-anchor="middle" fill="#111">Heat release rate (kW)</text>
<text x="316.4" y="20.9" font-size="9.4" fill="#111">(b)</text>
<rect x="442.2" y="17.7" width="88.6" height="26.3" rx="4.2" fill="#3a3a3a" opacity="0.9" filter="url(#sh)"/>
<rect x="440.2" y="15.7" width="88.6" height="26.3" rx="4.2" fill="#fff" stroke="#2c2c2c" stroke-width="1.1"/>
<path d="M447.7 21.32l2.38 4.25h-4.75z" fill="#3585ee" stroke="#2a70d8" stroke-width="0.3"/>
<circle cx="447.7" cy="35.7" r="2.5" fill="#d2d2d2" stroke="#8c8c8c" stroke-width="0.6"/>
<text x="456.4" y="26.3" font-size="8.5" fill="#111">Open environment</text>
<text x="456.4" y="38.4" font-size="8.5" fill="#111">Compartment</text>
<text x="422" y="81.4" font-size="8.6" fill="#111"><tspan font-family='"Liberation Serif", "DejaVu Serif", serif' font-size="9" fill="#3a3a3a">α</tspan><tspan font-family='"Liberation Serif", serif' font-size="5.2" dy="1.2" fill="#222">c</tspan><tspan dy="-1.2" fill="#333">=</tspan><tspan>2.1</tspan><tspan font-size="11.4" dy="0.9">×</tspan><tspan dy="-0.9">10</tspan><tspan font-size="5.5" dy="-3">-5</tspan><tspan dy="3"> kW/s</tspan><tspan font-size="5.5" dy="-3">2</tspan></text>
<path d="M489.2 82.8L492.48 87.9" stroke="#111" stroke-width="1.05" fill="none"/><path d="M494.6 91.2L489.81 87.62L492.48 87.9L493.34 85.35z" fill="#111"/>
<text x="405" y="104.6" font-size="8.6" fill="#111"><tspan font-family='"Liberation Serif", "DejaVu Serif", serif' font-size="9" fill="#3a3a3a">α</tspan><tspan font-family='"Liberation Serif", serif' font-size="5.2" dy="1.2" fill="#222">o</tspan><tspan dy="-1.2" fill="#333">=</tspan><tspan>6.6</tspan><tspan font-size="11.4" dy="0.9">×</tspan><tspan dy="-0.9">10</tspan><tspan font-size="5.5" dy="-3">-6</tspan><tspan dy="3"> kW/s</tspan><tspan font-size="5.5" dy="-3">2</tspan></text>
<path d="M472 105L516.15 153.11" stroke="#111" stroke-width="1.05" fill="none"/><path d="M518.8 156L513.47 153.29L516.15 153.11L516.56 150.45z" fill="#111"/>
<g clip-path="url(#cb1)"><rect x="319" y="28.8" width="59" height="58.6" fill="url(#gb1)"/><rect x="319" y="76.8" width="59" height="11" fill="url(#gb1f)" filter="url(#b6)"/><ellipse cx="351" cy="62" rx="15" ry="22" fill="#a8641e" opacity="0.4" filter="url(#b35)"/><g filter="url(#b3)"><path d="M336 78.4H366.4L367.2 81.6H335.2z" fill="#b48c5e"/><path d="M335.2 81.6H367.2L366.4 84H336z" fill="#20130c"/></g><g filter="url(#fl2)"><path d="M346.4 35C348 37 349 39 349.2 40.1C350 42 350.6 44 351.3 45.8C353 45.6 355.4 46 356.3 47.2C358 49 358.8 52 358.4 54.2C358.4 57 357.4 59.6 357 61.3C359 61 361.4 62 362.6 63.4C364.4 65 365.6 66.6 365.4 68.4C365 70 363.6 71.4 363.3 72.6C364.4 74.4 365.2 76.4 365.4 78.6H337.9C338.4 76 339.6 74 340.7 72.6C341.4 70 342 67.6 342.1 65.5C340.6 63.4 339.6 61 339.3 58.5C338.6 56 338.4 53.6 338.6 51.4C339.4 49 340.8 47 342.1 45.8C342.8 44 343.2 42 343.5 40.1C344.4 38.4 345.4 37 346.4 35z" fill="#f0901e"/><path d="M346.6 38C348 41 348.8 44 349.8 47C352.4 47 355 48.6 356.2 51C356.8 55 355.6 59 355.4 62C358 62.4 360.6 63.6 362.2 66C363 69 361.8 71 361.8 73C362.8 74.6 363.4 76.4 363.4 78.4H340C340.6 76 341.8 74 342.6 72C343.4 69.6 343.6 67 343.6 64.6C342 62.4 341 60 340.8 57.4C340.4 55 340.4 53 340.6 51C341.4 49 342.8 47.4 343.8 46.4C344.6 43.4 345.4 40.4 346.6 38z" fill="#ffc848"/><path d="M345 50C347 53 348.6 57 349.8 60C351.6 62 353.8 64 355 67C356 70 355.4 74 355 77.6H343C343.4 73 344.4 69 345 65.6C344 62 343.6 58 343.6 55C343.8 53 344.4 51 345 50z" fill="#fff0b0"/><path d="M353 55C355 57 356.4 60 356.6 62L352 62.4z" fill="#a85212"/><path d="M357.6 65.6C359.6 66.6 361.6 68.6 362 71L357 71.6z" fill="#b85c14"/></g></g><text x="322" y="38.9" font-size="8.5" fill="#fff">Open</text>
<g clip-path="url(#cb2)"><rect x="318.8" y="89.6" width="60" height="95" fill="#1d2a46"/><rect x="366" y="89.6" width="14" height="95" fill="#26385a" opacity="0.5" filter="url(#b20)"/><g filter="url(#b10)"><path d="M331.6 104V134" stroke="#090a10" stroke-width="3.6" fill="none" opacity="0.9"/><path d="M364.6 104V128" stroke="#0c0e16" stroke-width="1.8" fill="none" opacity="0.7"/></g><rect x="333.2" y="105.4" width="30.4" height="72.2" fill="url(#gb2o)" filter="url(#b3)"/><g clip-path="url(#cb2o)"><g filter="url(#fl3)"><path d="M334 157V140C335 136 336 133 337 128C338 132 339 134 340 131C341 126 342 122 343.4 116C344 123 345 127 346 124C347 120 347.6 114 348.4 108C349.4 118 349.8 124 350 130L351 157z" fill="#f08a2c" opacity="0.95"/><path d="M351 157V124C352 118 353 112 354 108C355 116 356 122 357 126C358 129 359 128 360 132C361 136 362 140 363.4 146V157z" fill="#f28e2e" opacity="0.95"/><path d="M335 157C335.6 150 337 146 338.4 140C339.6 146 341 148 342.6 142C343.6 138 344.6 136 345.6 132C346.6 140 347.6 146 349.4 150L349.8 157z" fill="#ffc252"/><path d="M337 157C337.6 152 339 149 340.4 146C341.6 149 343 150 344.6 147C345.6 150 346.6 153 347.4 157z" fill="#fff0c0"/><path d="M351.4 157C352 150 353 144 354.4 139C355.6 144 357 149 358.6 145C360 148 361.6 152 362.8 157z" fill="#ffc252"/><path d="M352.4 157C353 153 354 150 355.4 148C356.6 150 358 152 359.6 151C360.6 153 361.2 155 361.6 157z" fill="#fff0c0"/><path d="M336.4 106C337.4 112 336.8 120 337.8 126" stroke="#6a3214" stroke-width="1.6" fill="none" opacity="0.6"/><path d="M344 106C345 112 344 116 345.4 120" stroke="#74381a" stroke-width="1.4" fill="none" opacity="0.5"/><path d="M357 106C358 112 357 120 358.4 126" stroke="#e8994a" stroke-width="2.2" fill="none" opacity="0.8"/><path d="M340.6 108C341.4 114 340.6 120 341.6 126" stroke="#e08c40" stroke-width="1.8" fill="none" opacity="0.7"/></g><path d="M350.3 105.4V172" stroke="#4a2a18" stroke-width="0.8"/><rect x="342.6" y="167.6" width="12.4" height="1.8" fill="#2c1a10"/></g></g><text x="322" y="100" font-size="8.7" fill="#fff">Compartment</text>
</g>
<g id="pc">
<path d="M172.4 422.74l2.38 4.25h-4.75zM175.85 422.58l2.38 4.25h-4.75zM179.3 422.17l2.38 4.25h-4.75zM182.75 421.84l2.38 4.25h-4.75zM186.2 421.48l2.38 4.25h-4.75zM189.65 421.77l2.38 4.25h-4.75zM193.1 421.46l2.38 4.25h-4.75zM196.55 421.48l2.38 4.25h-4.75zM200 421.04l2.38 4.25h-4.75zM203.45 420.88l2.38 4.25h-4.75zM206.9 420.1l2.38 4.25h-4.75zM210.35 420.04l2.38 4.25h-4.75zM213.8 419.56l2.38 4.25h-4.75zM217.25 418.91l2.38 4.25h-4.75zM220.7 418.49l2.38 4.25h-4.75zM224.15 417.78l2.38 4.25h-4.75zM227.6 416.64l2.38 4.25h-4.75zM231.05 416.08l2.38 4.25h-4.75zM234.5 415.46l2.38 4.25h-4.75zM237.95 414.19l2.38 4.25h-4.75zM241.4 413.67l2.38 4.25h-4.75zM244.85 412.69l2.38 4.25h-4.75zM248.3 411.91l2.38 4.25h-4.75zM251.75 410.51l2.38 4.25h-4.75zM255.2 409.16l2.38 4.25h-4.75zM258.65 408.48l2.38 4.25h-4.75zM262.1 407.31l2.38 4.25h-4.75zM265.55 405.98l2.38 4.25h-4.75zM269 404.65l2.38 4.25h-4.75zM272.45 403.8l2.38 4.25h-4.75zM275.9 403.05l2.38 4.25h-4.75zM279.35 400.9l2.38 4.25h-4.75zM282.8 398.62l2.38 4.25h-4.75zM286.25 396.74l2.38 4.25h-4.75zM289.7 395.25l2.38 4.25h-4.75zM293.15 394.72l2.38 4.25h-4.75zM296.6 393.26l2.38 4.25h-4.75zM300.05 393.04l2.38 4.25h-4.75zM303.5 393.71l2.38 4.25h-4.75zM306.95 394.18l2.38 4.25h-4.75zM310.4 393.44l2.38 4.25h-4.75zM313.85 391.89l2.38 4.25h-4.75zM317.3 391.24l2.38 4.25h-4.75zM320.75 389.9l2.38 4.25h-4.75zM324.2 388.33l2.38 4.25h-4.75zM327.65 387.72l2.38 4.25h-4.75zM331.1 387.61l2.38 4.25h-4.75zM334.55 387.88l2.38 4.25h-4.75zM338 388.26l2.38 4.25h-4.75zM341.45 386.81l2.38 4.25h-4.75zM344.9 385.59l2.38 4.25h-4.75zM348.35 382.16l2.38 4.25h-4.75zM351.8 385.84l2.38 4.25h-4.75zM355.25 393.18l2.38 4.25h-4.75zM358.7 402.75l2.38 4.25h-4.75zM362.15 410.65l2.38 4.25h-4.75zM365.6 415.25l2.38 4.25h-4.75zM369.05 418.66l2.38 4.25h-4.75zM372.5 421.19l2.38 4.25h-4.75zM375.95 422.65l2.38 4.25h-4.75zM379.4 422.86l2.38 4.25h-4.75zM382.85 422.38l2.38 4.25h-4.75zM386.3 422.92l2.38 4.25h-4.75z" fill="#3585ee" stroke="#2a70d8" stroke-width="0.3"/>
<g fill="#d2d2d2" stroke="#8c8c8c" stroke-width="0.6"><circle cx="171.2" cy="424.27" r="2.45"/><circle cx="174.5" cy="424.28" r="2.45"/><circle cx="177.8" cy="424.24" r="2.45"/><circle cx="181.1" cy="424.26" r="2.45"/><circle cx="184.4" cy="424.07" r="2.45"/><circle cx="187.7" cy="424.11" r="2.45"/><circle cx="191" cy="423.5" r="2.45"/><circle cx="194.3" cy="423.7" r="2.45"/><circle cx="197.6" cy="423.92" r="2.45"/><circle cx="200.9" cy="423.62" r="2.45"/><circle cx="204.2" cy="423.5" r="2.45"/><circle cx="207.5" cy="422.77" r="2.45"/><circle cx="210.8" cy="422.72" r="2.45"/><circle cx="214.1" cy="422.32" r="2.45"/><circle cx="217.4" cy="422.23" r="2.45"/><circle cx="220.7" cy="421.93" r="2.45"/><circle cx="224" cy="421.07" r="2.45"/><circle cx="227.3" cy="420.66" r="2.45"/><circle cx="230.6" cy="420.17" r="2.45"/><circle cx="233.9" cy="420.03" r="2.45"/><circle cx="237.2" cy="419.29" r="2.45"/><circle cx="240.5" cy="418.22" r="2.45"/><circle cx="243.8" cy="417.9" r="2.45"/><circle cx="247.1" cy="416.8" r="2.45"/><circle cx="250.4" cy="416.34" r="2.45"/><circle cx="253.7" cy="414.97" r="2.45"/><circle cx="257" cy="413.83" r="2.45"/><circle cx="260.3" cy="413.28" r="2.45"/><circle cx="263.6" cy="411.53" r="2.45"/><circle cx="266.9" cy="409.88" r="2.45"/><circle cx="270.2" cy="408.63" r="2.45"/><circle cx="274.8" cy="404.3" r="2.45"/><circle cx="276.8" cy="401.4" r="2.45"/><circle cx="279.1" cy="395.5" r="2.45"/><circle cx="281.5" cy="392.6" r="2.45"/><circle cx="284.1" cy="387.4" r="2.45"/><circle cx="286.4" cy="383.9" r="2.45"/><circle cx="288.7" cy="372.2" r="2.45"/><circle cx="290.8" cy="358.3" r="2.45"/><circle cx="292.8" cy="343.7" r="2.45"/><circle cx="295.1" cy="329.1" r="2.45"/><circle cx="297.2" cy="321.8" r="2.45"/><circle cx="299.5" cy="318.1" r="2.45"/><circle cx="300.6" cy="322.4" r="2.45"/><circle cx="302.4" cy="321.8" r="2.45"/><circle cx="304.8" cy="337.3" r="2.45"/><circle cx="307.4" cy="362.6" r="2.45"/><circle cx="309.7" cy="380.1" r="2.45"/><circle cx="312" cy="393.2" r="2.45"/><circle cx="314.7" cy="402.5" r="2.45"/><circle cx="317" cy="410.1" r="2.45"/><circle cx="319.3" cy="415.9" r="2.45"/><circle cx="321.9" cy="418.8" r="2.45"/><circle cx="324.3" cy="420.9" r="2.45"/><circle cx="327.2" cy="422.9" r="2.45"/><circle cx="330.1" cy="423.8" r="2.45"/><circle cx="333" cy="424.5" r="2.45"/><circle cx="335.3" cy="424.8" r="2.45"/></g>
<polyline points="171,425.1 173.87,425.09 176.73,425.06 179.59,425.01 182.46,424.93 185.32,424.84 188.19,424.73 191.06,424.59 193.92,424.44 196.78,424.26 199.65,424.06 202.51,423.84 205.38,423.61 208.25,423.35 211.11,423.07 213.97,422.76 216.84,422.44 219.7,422.1 222.57,421.74 225.44,421.35 228.3,420.95 231.16,420.52 234.03,420.08 236.89,419.61 239.76,419.12 242.62,418.61 245.49,418.08 248.36,417.53 251.22,416.96 254.08,416.37 256.95,415.76 259.81,415.12 262.68,414.47 265.55,413.8 268.41,413.1 271.27,412.38 274.14,411.65 277,410.89 279.87,410.11 282.74,409.31 285.6,408.49 288.47,407.65 291.33,406.79 294.19,405.91 297.06,405 299.93,404.08 302.79,403.13 305.65,402.17 308.52,401.18 311.38,400.18 314.25,399.15 317.12,398.1 319.98,397.03 322.85,395.94 325.71,394.83 328.57,393.7 331.44,392.55 334.31,391.37 337.17,390.18 340.03,388.97 342.9,387.73 345.76,386.47 348.63,385.2 351.5,383.9 354.36,382.58 357.23,381.24 360.09,379.88 362.96,378.5 365.82,377.1 368.69,375.68 371.55,374.23 374.41,372.77 377.28,371.29 380.14,369.78 383.01,368.26 385.88,366.71 388.74,365.14 391.61,363.55 394.47,361.94 397.34,360.31 400.2,358.66" fill="none" stroke="#111" stroke-width="1.1" stroke-dasharray="3.6 3"/>
<polyline points="262.11,414.6 262.4,414.6 262.69,414.58 262.98,414.55 263.26,414.51 263.55,414.46 263.84,414.39 264.13,414.32 264.42,414.23 264.71,414.13 265,414.02 265.29,413.9 265.58,413.77 265.87,413.62 266.16,413.47 266.45,413.3 266.74,413.12 267.03,412.93 267.32,412.73 267.6,412.51 267.89,412.29 268.18,412.05 268.47,411.8 268.76,411.54 269.05,411.27 269.34,410.98 269.63,410.69 269.92,410.38 270.21,410.06 270.5,409.73 270.79,409.39 271.08,409.04 271.37,408.67 271.66,408.29 271.95,407.91 272.23,407.51 272.52,407.1 272.81,406.67 273.1,406.24 273.39,405.79 273.68,405.33 273.97,404.86 274.26,404.38 274.55,403.89 274.84,403.39 275.13,402.87 275.42,402.34 275.71,401.81 276,401.26 276.29,400.69 276.58,400.12 276.86,399.54 277.15,398.94 277.44,398.33 277.73,397.71 278.02,397.08 278.31,396.44 278.6,395.78 278.89,395.12 279.18,394.44 279.47,393.75 279.76,393.05 280.05,392.33 280.34,391.61 280.63,390.87 280.92,390.13 281.21,389.37 281.49,388.6 281.78,387.82 282.07,387.02 282.36,386.22 282.65,385.4 282.94,384.57 283.23,383.73 283.52,382.88 283.81,382.02 284.1,381.14 284.39,380.26 284.68,379.36 284.97,378.45 285.26,377.53 285.55,376.6 285.83,375.65 286.12,374.7 286.41,373.73 286.7,372.75 286.99,371.76 287.28,370.76 287.57,369.74 287.86,368.72 288.15,367.68 288.44,366.63 288.73,365.57 289.02,364.5 289.31,363.42 289.6,362.32 289.89,361.21 290.18,360.1 290.46,358.97 290.75,357.83 291.04,356.67 291.33,355.51 291.62,354.33 291.91,353.15 292.2,351.95 292.49,350.74 292.78,349.51 293.07,348.28 293.36,347.03 293.65,345.78 293.94,344.51 294.23,343.23 294.52,341.94 294.81,340.63 295.09,339.32 295.38,337.99 295.67,336.65 295.96,335.3 296.25,333.94 296.54,332.57 296.83,331.18 297.12,329.79 297.41,328.38 297.7,326.96 297.99,325.53 298.28,324.09 298.57,322.63 298.86,321.17 299.15,319.69 299.44,318.2 299.72,316.7 300.01,315.19 300.3,313.67 300.59,312.13 300.88,310.58 301.17,309.03 301.46,307.46 301.75,305.87 302.04,304.28 302.33,302.68 302.62,301.06 302.91,299.43 303.2,297.79 303.49,296.14 303.78,294.48 304.06,292.81 304.35,291.12 304.64,289.42 304.93,287.71 305.22,285.99 305.51,284.26 305.8,282.52 306.09,280.76 306.38,279 306.67,277.22 306.96,275.43 307.25,273.63 307.54,271.81 307.83,269.99 308.12,268.15 308.41,266.3 308.69,264.44 308.98,262.57 309.27,260.69 309.56,258.8 309.85,256.89 310.14,254.97 310.43,253.04 310.72,251.1 311.01,249.15 311.3,247.19 311.59,245.21 311.88,243.22 312.17,241.23 312.46,239.22 312.75,237.19 313.04,235.16 313.32,233.12 313.61,231.06 313.9,228.99 314.19,226.91" fill="none" stroke="#111" stroke-width="1.15" stroke-dasharray="6.5 9"/>
<polyline points="171,425.1 173.87,425.09 176.73,425.06 179.59,425 182.46,424.92 185.32,424.83 188.19,424.7 191.06,424.56 193.92,424.4 196.78,424.21 199.65,424 202.51,423.77 205.38,423.52 208.25,423.24 211.11,422.95 213.97,422.63 216.84,422.29 219.7,421.92 222.57,421.54 225.44,421.13 228.3,420.7 231.16,420.25 234.03,419.78 236.89,419.29 239.76,418.77 242.62,418.23 245.49,417.67 248.36,417.09 251.22,416.48 254.08,415.86 256.95,415.21 259.81,414.54 262.68,413.84 265.55,413.13 268.41,412.39 271.27,411.64 274.14,410.86 277,410.05 279.87,409.23 282.74,408.38 285.6,407.51 288.47,406.62 291.33,405.71 294.19,404.78 297.06,403.82 299.93,402.84 302.79,401.84 305.65,400.82 308.52,399.78 311.38,398.71 314.25,397.62 317.12,396.51 319.98,395.38 322.85,394.23 325.71,393.05 328.57,391.85 331.44,390.63 334.31,389.39 337.17,388.13 340.03,386.84 342.9,385.53 345.76,384.2 348.63,382.85 351.5,381.48 354.36,380.08 357.23,378.66 360.09,377.22 362.96,375.76 365.82,374.28 368.69,372.77 371.55,371.24 374.41,369.69 377.28,368.12 380.14,366.53 383.01,364.91 385.88,363.27 388.74,361.61 391.61,359.93 394.47,358.23 397.34,356.5 400.2,354.76" fill="none" stroke="#ff1f1f" stroke-width="1.15"/>
<path d="M171 425.1v-4M171 229.7v4M216.84 425.1v-4M216.84 229.7v4M262.68 425.1v-4M262.68 229.7v4M308.52 425.1v-4M308.52 229.7v4M354.36 425.1v-4M354.36 229.7v4M400.2 425.1v-4M400.2 229.7v4M193.92 425.1v-2.4M193.92 229.7v2.4M239.76 425.1v-2.4M239.76 229.7v2.4M285.6 425.1v-2.4M285.6 229.7v2.4M331.44 425.1v-2.4M331.44 229.7v2.4M377.28 425.1v-2.4M377.28 229.7v2.4M171 425.1h4M400.2 425.1h-4M171 386.02h4M400.2 386.02h-4M171 346.94h4M400.2 346.94h-4M171 307.86h4M400.2 307.86h-4M171 268.78h4M400.2 268.78h-4M171 229.7h4M400.2 229.7h-4M171 405.56h2.4M400.2 405.56h-2.4M171 366.48h2.4M400.2 366.48h-2.4M171 327.4h2.4M400.2 327.4h-2.4M171 288.32h2.4M400.2 288.32h-2.4M171 249.24h2.4M400.2 249.24h-2.4" stroke="#222" stroke-width="0.9" fill="none"/>
<rect x="171" y="229.7" width="229.2" height="195.4" fill="none" stroke="#222" stroke-width="1.3"/>
<g font-size="8.8" fill="#111">
<text x="171" y="436.8" text-anchor="middle">0</text>
<text x="216.84" y="436.8" text-anchor="middle">400</text>
<text x="262.68" y="436.8" text-anchor="middle">800</text>
<text x="308.52" y="436.8" text-anchor="middle">1200</text>
<text x="354.36" y="436.8" text-anchor="middle">1600</text>
<text x="400.2" y="436.8" text-anchor="middle">2000</text>
<text x="166.8" y="428.2" text-anchor="end">0</text>
<text x="166.8" y="389.12" text-anchor="end">40</text>
<text x="166.8" y="350.04" text-anchor="end">80</text>
<text x="166.8" y="310.96" text-anchor="end">120</text>
<text x="166.8" y="271.88" text-anchor="end">160</text>
<text x="166.8" y="232.8" text-anchor="end">200</text>
</g>
<text x="285.6" y="446.2" font-size="8.45" text-anchor="middle" fill="#111">Time (s)</text>
<text transform="translate(150 327.4) rotate(-90)" font-size="8.4" text-anchor="middle" fill="#111">Heat release rate (kW)</text>
<text x="177.6" y="244.4" font-size="9.4" fill="#111">(c)</text>
<rect x="303.6" y="241.4" width="88.6" height="26.3" rx="4.2" fill="#3a3a3a" opacity="0.9" filter="url(#sh)"/>
<rect x="301.6" y="239.4" width="88.6" height="26.3" rx="4.2" fill="#fff" stroke="#2c2c2c" stroke-width="1.1"/>
<path d="M309.1 245.03l2.38 4.25h-4.75z" fill="#3585ee" stroke="#2a70d8" stroke-width="0.3"/>
<circle cx="309.1" cy="259.4" r="2.5" fill="#d2d2d2" stroke="#8c8c8c" stroke-width="0.6"/>
<text x="317.8" y="250" font-size="8.5" fill="#111">Open environment</text>
<text x="317.8" y="262.1" font-size="8.5" fill="#111">Compartment</text>
<text x="318.6" y="289" font-size="8.6" fill="#111"><tspan font-family='"Liberation Serif", "DejaVu Serif", serif' font-size="9" fill="#3a3a3a">α</tspan><tspan font-family='"Liberation Serif", serif' font-size="5.2" dy="1.2" fill="#222">c2</tspan><tspan dy="-1.2" fill="#333">=</tspan><tspan>9.3</tspan><tspan font-size="11.4" dy="0.9">×</tspan><tspan dy="-0.9">10</tspan><tspan font-size="5.5" dy="-3">-4</tspan><tspan dy="3"> kW/s</tspan><tspan font-size="5.5" dy="-3">2</tspan></text>
<path d="M318.4 286.4L311.32 286.4" stroke="#111" stroke-width="1.05" fill="none"/><path d="M307.4 286.4L313 284.3L311.32 286.4L313 288.5z" fill="#111"/>
<text x="321.7" y="330.2" font-size="8.6" fill="#111"><tspan font-family='"Liberation Serif", "DejaVu Serif", serif' font-size="9" fill="#3a3a3a">α</tspan><tspan font-family='"Liberation Serif", serif' font-size="5.2" dy="1.2" fill="#222">o</tspan><tspan dy="-1.2" fill="#333">=</tspan><tspan>1.8</tspan><tspan font-size="11.4" dy="0.9">×</tspan><tspan dy="-0.9">10</tspan><tspan font-size="5.5" dy="-3">-5</tspan><tspan dy="3"> kW/s</tspan><tspan font-size="5.5" dy="-3">2</tspan></text>
<path d="M387.3 332L390.82 355.72" stroke="#111" stroke-width="1.05" fill="none"/><path d="M391.4 359.6L388.5 354.37L390.82 355.72L392.65 353.75z" fill="#111"/>
<text x="312" y="350.1" font-size="8.6" fill="#111"><tspan font-family='"Liberation Serif", "DejaVu Serif", serif' font-size="9" fill="#3a3a3a">α</tspan><tspan font-family='"Liberation Serif", serif' font-size="5.2" dy="1.2" fill="#222">c1</tspan><tspan dy="-1.2" fill="#333">=</tspan><tspan>1.7</tspan><tspan font-size="11.4" dy="0.9">×</tspan><tspan dy="-0.9">10</tspan><tspan font-size="5.5" dy="-3">-5</tspan><tspan dy="3"> kW/s</tspan><tspan font-size="5.5" dy="-3">2</tspan></text>
<path d="M373.9 352L381.79 365.23" stroke="#111" stroke-width="1.05" fill="none"/><path d="M383.8 368.6L379.13 364.87L381.79 365.23L382.74 362.71z" fill="#111"/>
<g clip-path="url(#cc1)"><rect x="180" y="252.6" width="82" height="58.4" fill="#0a0504"/><rect x="189" y="252" width="64.8" height="32.4" fill="url(#gc1w)" filter="url(#b6)"/><path d="M194.6 288.4H249L258.8 311H190.4z" fill="url(#gc1f)" filter="url(#b6)"/><path d="M192 300L196 292L205 300L203 311H190z" fill="#6e4a3c" opacity="0.6" filter="url(#b15)"/><ellipse cx="223" cy="297" rx="22" ry="9" fill="#9a3c1a" opacity="0.6" filter="url(#b20)"/><g filter="url(#b3)"><path d="M212.6 289.6H236L238.6 307.8H210z" fill="#0e0505"/></g><g filter="url(#fl2)"><path d="M217.8 255.6C220 257 222 258 223.4 259.6C224.6 262 225.4 265 225 267.6C227 270 230 273.6 231.4 277.2C231 279 229.4 280.6 228.2 282C228.4 284 229 286.4 229.8 288.4C231.4 289.4 233 290.4 233.8 291.6L235 305H212.6L212.5 293.2C213.2 291 214.4 288.8 215.4 286.8C214.8 284.6 214.4 282.4 214.6 280.4C215 278 216 276 217 274C215 272.6 212.6 271 211.4 269.2C210.6 267.4 210.2 265.4 210.6 263.6C212 262.6 213.4 261.8 214.6 261.2C215.4 259.6 216.4 258 217.8 255.6z" fill="#f0661a"/><path d="M218.4 264C219.6 264.6 220.4 266 220.6 267.4C220.6 269.6 220.4 271 221 273C223.4 275.4 225.4 277.4 226 279.6C226 281.4 225.6 283.4 226 285.4C227 287.4 229 289.4 231 291L233 304H214.4L214.6 292C215.6 289.6 216.8 287.6 217.4 285.4C217 283 217 280.6 217.6 278.6C218.2 277 219 275.4 219.2 274C218.2 272 217.2 270 216.8 268.4C216.6 266.6 217.2 265 217.8 264.4z" fill="#ffa422"/><path d="M220.4 279C222 283 223.8 286 225 289C227 291 229.4 293 230.4 295.6L231 302.6H216.4L216.8 294C217.6 290 219.4 284 220.4 279z" fill="#ffd860"/></g></g><text x="183" y="262.5" font-size="8.7" fill="#fff">Open</text>
<g clip-path="url(#cc2)"><rect x="180" y="314.8" width="82.2" height="88" fill="#0c1212"/><g filter="url(#b10)"><rect x="180" y="345" width="5" height="58" fill="#1c2a2a"/><rect x="187" y="352" width="5" height="51" fill="#3a4a44"/><rect x="194" y="388" width="5" height="15" fill="#5a4030"/><path d="M226 314H263V344L238 347.6L226 343z" fill="#14262c"/><path d="M228.9 337.9L262.4 331.2V344L239.2 349.3L229.9 345.2z" fill="#36545c"/><path d="M238 316H250V330H238z" fill="#0c1418"/><path d="M251 318H262.4V328H251z" fill="#223a42"/><rect x="249" y="327.6" width="5.4" height="4.4" fill="#6c7c74"/><path d="M180 394H262.4V403H180z" fill="#173a34"/><path d="M244 392L262.4 387V403H244z" fill="#2c524c"/></g><g filter="url(#b3)"><path d="M243.8 347.4L262.4 343.6V392L243.8 398.6z" fill="#0c0d0e"/><path d="M237.3 347.2L262.4 343.4" stroke="#5a6c70" stroke-width="1.1" fill="none"/><path d="M237.4 347.2H243.8V400H237.4z" fill="#4c4e4e"/><path d="M240.4 347.2V400" stroke="#1e2020" stroke-width="1.2" fill="none"/><path d="M200.8 365.8L224.4 352V398L200.8 387.3z" fill="#d0b4aa"/><path d="M201.6 367.3L210.4 363V391L201.6 387.2z" fill="#e2d6d2"/><path d="M224.4 350L237.3 347.2V403L224.4 397z" fill="url(#gc2r)"/><path d="M210.8 356L224.4 352V393.8L210.8 388.8z" fill="url(#gc2d)"/><path d="M200.8 387.3L233 401.7L233 403L200.8 389z" fill="#3a2a20"/><path d="M210.8 388.6L224.4 393.6V395.4L210.8 390.2z" fill="#e0701a"/><circle cx="205.4" cy="381.4" r="0.6" fill="#4a3a36"/><circle cx="231" cy="374.6" r="0.6" fill="#5a2a1a"/><circle cx="230.4" cy="394" r="0.6" fill="#5a4a44"/></g><ellipse cx="217.6" cy="379" rx="8" ry="14" fill="#ffae3c" opacity="0.55" filter="url(#b15)"/><path d="M212.6 370L223 367V391.6L212.6 388z" fill="#fff8d8" filter="url(#b6)"/><ellipse cx="204" cy="346" rx="24" ry="22" fill="#5a1608" opacity="0.55" filter="url(#b20)"/><g filter="url(#fl3)"><path d="M183 329C185 326.6 188 325.6 189.4 325.5C192 326 195 327.4 197.7 327.6C200 326.6 202 326.2 204 326.5C207 327.6 210 329.4 212.3 330.7C214.4 331.2 216.6 331.8 218.5 332.7C221.6 334.4 224.6 336.6 226.8 339C228.4 341.6 229.6 344.4 229.9 347.3C230 351 229.6 354.4 228.4 357C227 359 225.8 361 224.6 363L224 374L211 374C209 372 207 370.6 205 369C202.8 367 200.6 365 198.8 362.8C196.6 360 194.4 357 192.6 354.5C190 352.6 187.4 350.6 185.3 348.3C184 345.6 183.2 342.8 183 340C182.6 336 182.6 332 183 329z" fill="#ea4812"/><path d="M186 331C189 328.6 195 329.6 199 332C203 334.6 205.6 339 205.6 343C205.6 349 201 354 196 354C191 354 187.4 349 186.2 343C185.6 338 185.4 334 186 331z" fill="#ff8a1e"/><path d="M201 352C205 349.6 212 350.6 216 354C220 358 221.4 366 219 372L210.6 373.4C206.6 371 203.6 366 202 361C201 357 200.6 354 201 352z" fill="#f8701a"/><ellipse cx="194" cy="340" rx="4.6" ry="6.4" fill="#ffc63e"/><ellipse cx="210.6" cy="364" rx="3" ry="4" fill="#ffb030"/><ellipse cx="200.6" cy="349" rx="2.6" ry="2.2" fill="#ffb43a"/><ellipse cx="221" cy="342" rx="8.6" ry="10.6" fill="#160b08"/><ellipse cx="211" cy="333.6" rx="7.6" ry="3.6" fill="#1d0e09"/><ellipse cx="213" cy="345" rx="4" ry="4.4" fill="#3c1208"/><ellipse cx="222" cy="352" rx="3" ry="3.6" fill="#8a2a0c"/><ellipse cx="190" cy="351" rx="2.6" ry="1.8" fill="#9a2c0c"/></g></g><text x="182.4" y="324.5" font-size="8.95" fill="#fff">Compartment</text>
</g>
</svg></body></html>
